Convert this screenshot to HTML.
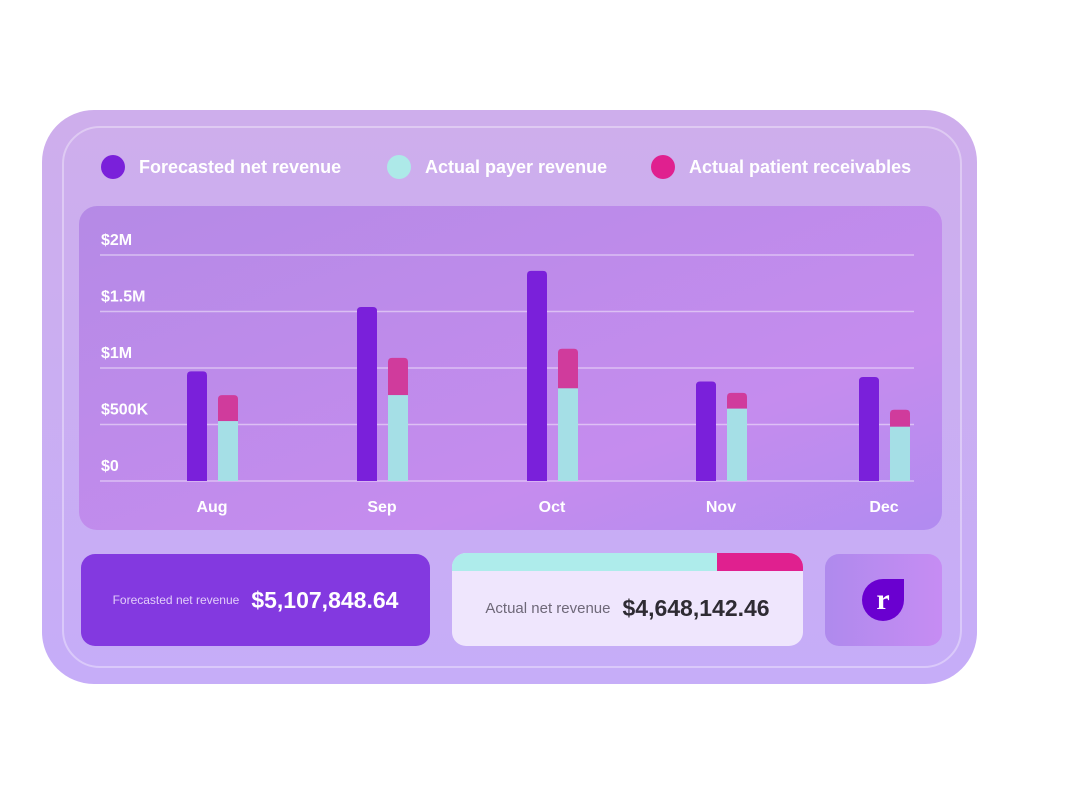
<!DOCTYPE html>
<html><head><meta charset="utf-8"><style>
body{margin:0;width:1087px;height:806px;background:#fff;font-family:"Liberation Sans",sans-serif;position:relative;overflow:hidden}
.abs{position:absolute}
#outer{left:42px;top:110px;width:935px;height:574px;border-radius:52px;background:linear-gradient(180deg,#ceaeec,#c6adf8)}
#inner{left:62px;top:126px;width:896px;height:538px;border-radius:38px;border:2px solid rgba(255,255,255,0.35)}
.leg{top:155px;font-size:18px;color:#fff;font-weight:bold;display:flex;align-items:center;gap:14px}
.dot{width:24px;height:24px;border-radius:50%}
#panel{left:79px;top:206px;width:863px;height:324px;border-radius:18px;background:linear-gradient(160deg,#b58ae6,#c58cee 70%,#b18bf0)}
</style></head><body>
<div class="abs" id="outer"></div>
<div class="abs" id="inner"></div>
<div class="abs leg" style="left:101px"><div class="dot" style="background:#7a20da"></div>Forecasted net revenue</div>
<div class="abs leg" style="left:387px"><div class="dot" style="background:#ade9e8"></div>Actual payer revenue</div>
<div class="abs leg" style="left:651px"><div class="dot" style="background:#e0208f"></div>Actual patient receivables</div>
<div class="abs" id="panel"></div>
<svg class="abs" style="left:0;top:0" width="1087" height="806" id="chart"></svg>
<div class="abs" style="left:81px;top:554px;width:349px;height:92px;border-radius:14px;background:#8339e0;display:flex;align-items:center;justify-content:center;gap:12px;color:#fff"><span style="font-size:12px;color:#e2cdfa">Forecasted net revenue</span><span style="font-size:23px;font-weight:bold">$5,107,848.64</span></div>
<div class="abs" style="left:452px;top:553px;width:351px;height:93px;border-radius:14px;background:#efe6fd;overflow:hidden">
<div class="abs" style="left:0;top:0;width:265px;height:18px;background:#aeeceb"></div>
<div class="abs" style="left:265px;top:0;width:86px;height:18px;background:#e0208f"></div>
<div class="abs" style="left:0;top:18px;width:351px;height:75px;display:flex;align-items:center;justify-content:center;gap:12px"><span style="font-size:15px;color:#6e6878">Actual net revenue</span><span style="font-size:23px;font-weight:bold;color:#2e2b33">$4,648,142.46</span></div></div>
<div class="abs" style="left:825px;top:554px;width:117px;height:92px;border-radius:14px;background:linear-gradient(90deg,#af8aed,#c68cf3)">
<svg width="117" height="92"><path d="M58 25 H79 V46 A21 21 0 1 1 58 25 Z" fill="#6a00d0"/><text x="58" y="55" text-anchor="middle" font-family="Liberation Serif,serif" font-weight="bold" font-size="30" fill="#fff">r</text></svg></div>
<script>
const months=["Aug","Sep","Oct","Nov","Dec"];
const forecast=[0.97,1.54,1.86,0.88,0.92];
const payer=[0.53,0.76,0.82,0.64,0.48];
const patient=[0.23,0.33,0.35,0.14,0.15];
const ticks=[0,0.5,1,1.5,2];
const tickLabels=["$0","$500K","$1M","$1.5M","$2M"];
const svg=document.getElementById('chart');
const NS="http://www.w3.org/2000/svg";
const y=v=>481-v*113;
const cx=[212,382,552,721,884];
const xf=i=>cx[i]-25;
function mk(t,a){const e=document.createElementNS(NS,t);for(const k in a)e.setAttribute(k,a[k]);svg.appendChild(e);return e;}
ticks.forEach((t,i)=>{
const l=mk('line',{x1:100,x2:914,y1:y(t),y2:y(t),stroke:'rgba(255,255,255,0.45)','stroke-width':1.5});


const tx=mk('text',{x:101,y:y(t)-10,fill:'#fff','font-size':16,'font-weight':'bold','font-family':'Liberation Sans,sans-serif'});
tx.textContent=tickLabels[i];


});
months.forEach((m,i)=>{
const x=xf(i);
const f=mk('path',{d:`M${x} ${y(0)} V${y(forecast[i])+4} Q${x} ${y(forecast[i])} ${x+4} ${y(forecast[i])} H${x+16} Q${x+20} ${y(forecast[i])} ${x+20} ${y(forecast[i])+4} V${y(0)} Z`,fill:'#7a20da'});


const ax=x+31,tot=payer[i]+patient[i];
const p=mk('path',{d:`M${ax} ${y(payer[i])} V${y(tot)+4} Q${ax} ${y(tot)} ${ax+4} ${y(tot)} H${ax+16} Q${ax+20} ${y(tot)} ${ax+20} ${y(tot)+4} V${y(payer[i])} Z`,fill:'#d03b9c'});


const c=mk('rect',{x:ax,y:y(payer[i]),width:20,height:y(0)-y(payer[i]),fill:'#a5dfe6'});


const t=mk('text',{x:cx[i],y:512,'text-anchor':'middle',fill:'#fff','font-size':16,'font-weight':'bold','font-family':'Liberation Sans,sans-serif'});
t.textContent=m;


});
</script>
</body></html>
